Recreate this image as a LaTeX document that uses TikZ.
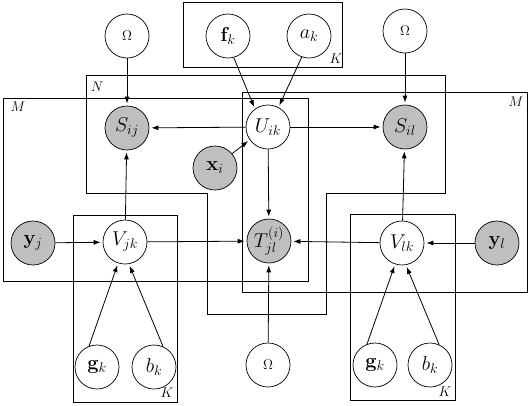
\documentclass[tikz,border=0pt]{standalone}
\usepackage{fix-cm}
\DeclareMathSizes{20}{20}{14}{10}
\DeclareMathSizes{14}{14}{10}{7}
\usetikzlibrary{arrows.meta}
\begin{document}
\begin{tikzpicture}[x=1pt,y=-1pt,
  every node/.style={inner sep=0pt},
  var/.style={circle,draw,line width=0.7pt,minimum size=44pt,font=\fontsize{20}{24}\selectfont},
  obs/.style={var,fill=black!25},
  hyp/.style={circle,draw,line width=0.7pt,minimum size=44pt,font=\fontsize{14}{16}\selectfont},
  plate/.style={draw,line width=0.8pt},
  plab/.style={font=\fontsize{14}{16}\selectfont},
  edge/.style={line width=0.8pt,-{Latex[length=7pt,width=5pt]},shorten >=2pt}]
\useasboundingbox (0,0) rectangle (530,405);
% plates
\draw[plate] (183,2) rectangle (342,67);
\draw[plate] (86,75) -- (445,75) -- (445,193) -- (326,193) -- (326,314) -- (207,314) -- (207,193) -- (86,193) -- cycle;
\draw[plate] (3,98) rectangle (308,281);
\draw[plate] (242,92) rectangle (527,292);
\draw[plate] (73,215) rectangle (177,402);
\draw[plate] (350,214) rectangle (455,400);
\node[plab] (lK1) at (336,59) {$K$};
\node[plab] (lN) at (97,87) {$N$};
\node[plab] (lM1) at (18,107) {$M$};
\node[plab] (lM2) at (516,102) {$M$};
\node[plab] (lK2) at (167,393) {$K$};
\node[plab] (lK3) at (445,392) {$K$};
% nodes
\node[hyp] (Om1) at (127,36) {$\Omega$};
\node[hyp] (Om2) at (405,31) {$\Omega$};
\node[hyp] (Om3) at (268,365) {$\Omega$};
\node[var] (fk) at (228,36) {$\mathbf{f}_k$};
\node[var] (ak) at (309,36) {$a_k$};
\node[obs] (Sij) at (127,128) {$S_{ij}$};
\node[var] (Uik) at (268,127) {$U_{ik}$};
\node[obs] (Sil) at (405,127) {$S_{il}$};
\node[obs] (xi) at (215,168) {$\mathbf{x}_i$};
\node[obs] (yj) at (33,243) {$\mathbf{y}_j$};
\node[var] (Vjk) at (125,242) {$V_{jk}$};
\node[obs] (Tjl) at (269,241) {$T^{(i)}_{jl}$};
\node[var] (Vlk) at (402,243) {$V_{lk}$};
\node[obs] (yl) at (497,243) {$\mathbf{y}_l$};
\node[var] (gk1) at (97,367) {$\mathbf{g}_k$};
\node[var] (bk1) at (154,367) {$b_k$};
\node[var] (gk2) at (375,365) {$\mathbf{g}_k$};
\node[var] (bk2) at (430,365) {$b_k$};
% edges
\draw[edge] (Om1) -- (Sij);
\draw[edge] (Om2) -- (Sil);
\draw[edge] (Om3) -- (Tjl);
\draw[edge] (fk.-75) -- (Uik.126);
\draw[edge] (ak.-109) -- (Uik.62);
\draw[edge] (xi.40) -- (Uik.215);
\draw[edge] (Uik) -- (Sij);
\draw[edge] (Uik) -- (Sil);
\draw[edge] (Uik) -- (Tjl);
\draw[edge] (Vjk) -- (Sij);
\draw[edge] (Vlk) -- (Sil);
\draw[edge] (yj) -- (Vjk);
\draw[edge] (yl) -- (Vlk);
\draw[edge] (Vjk) -- (Tjl);
\draw[edge] (Vlk) -- (Tjl);
\draw[edge] (gk1.111) -- (Vjk.252);
\draw[edge] (bk1.66) -- (Vjk.280);
\draw[edge] (gk2.111) -- (Vlk.252);
\draw[edge] (bk2.66) -- (Vlk.280);
\end{tikzpicture}
\end{document}
